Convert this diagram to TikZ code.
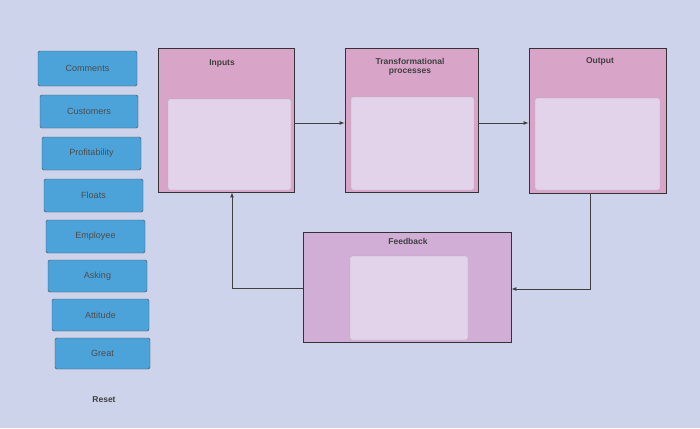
\documentclass[tikz,border=0pt]{standalone}
\usepackage{fontspec}
\setmainfont{Liberation Sans}
\definecolor{bg}{HTML}{CDD3EA}
\definecolor{btnc}{HTML}{4CA3DA}
\definecolor{boxc}{HTML}{D8A4C8}
\definecolor{innc}{HTML}{E3D3EA}
\definecolor{fbc}{HTML}{D0AED6}
\begin{document}
\begin{tikzpicture}[x=1pt,y=-1pt,
 btn/.style={draw=black!70,fill=btnc,rounded corners=1.5pt,font=\fontsize{9}{10}\selectfont,text=black!70},
 box/.style={draw=black!80,line width=0.8pt,fill=boxc},
 inner/.style={draw=gray!60,fill=innc,rounded corners=2pt},
 lbl/.style={font=\bfseries\fontsize{8.5}{9}\selectfont,align=center,text=black!75},
 arr/.style={draw=black!75,line width=0.7pt,-latex}]
\fill[bg] (0,0) rectangle (700,428);
\useasboundingbox (0,0) rectangle (700,428);
\foreach \n/\t/\xa/\xb/\ya/\yb in {b1/Comments/38/137/51/86,b2/Customers/40/138/95/128,b3/Profitability/42/141/137/170,b4/Floats/44/143/179/212,b5/Employee/46/145/220/253,b6/Asking/48/147/260/292,b7/Attitude/52/149/299/331,b8/Great/55/150/338/369}
 {\node[btn,minimum width={(\xb-\xa)*1pt},minimum height={(\yb-\ya)*1pt}] (\n) at ({(\xa+\xb)/2},{(\ya+\yb)/2}) {\t};}
\node[lbl] (reset) at (104,400) {Reset};
% boxes
\node[box,minimum width=136pt,minimum height=144pt] (in) at (226,120) {};
\node[inner,minimum width=123pt,minimum height=91pt] (ini) at (229.5,144.5) {};
\node[lbl] (inl) at (222,63) {Inputs};
\node[box,minimum width=133pt,minimum height=144pt] (tr) at (411.5,120) {};
\node[inner,minimum width=123pt,minimum height=93pt] (tri) at (412.5,143.5) {};
\node[lbl] (trl) at (410,67) {Transformational\\processes};
\node[box,minimum width=137pt,minimum height=145pt] (out) at (597.5,120.5) {};
\node[inner,minimum width=125pt,minimum height=92pt] (outi) at (597.5,144) {};
\node[lbl] (outl) at (600,61) {Output};
\node[box,fill=fbc,minimum width=208pt,minimum height=110pt] (fb) at (407,287) {};
\node[inner,minimum width=118pt,minimum height=84pt] (fbi) at (409,298) {};
\node[lbl] (fbl) at (408,241) {Feedback};
\coordinate (c1) at (590,289);
\coordinate (c2) at (232,288);
\draw[arr] (in.east |- 0,123) -- (tr.west |- 0,123);
\draw[arr] (tr.east |- 0,123) -- (out.west |- 0,123);
\draw[arr] (out.south -| 590,0) -- (c1) -- (fb.east |- c1);
\draw[arr] (fb.west |- c2) -- (c2) -- (in.south -| c2);
\end{tikzpicture}
\end{document}
